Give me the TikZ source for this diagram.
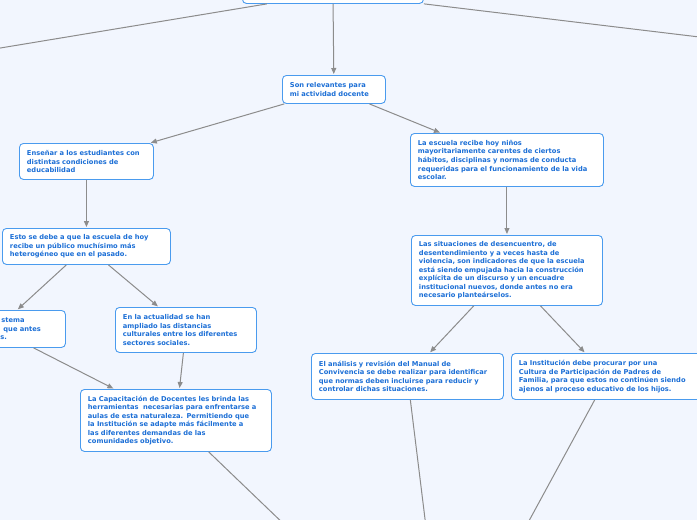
\documentclass[tikz,border=0pt]{standalone}
\usepackage{fontspec}
\setmainfont{DejaVu Sans}
\usetikzlibrary{arrows.meta,calc}
\definecolor{bgc}{HTML}{F2F6FE}
\definecolor{bdr}{HTML}{4A9BEE}
\definecolor{txt}{HTML}{1C6FD6}
\definecolor{lnc}{HTML}{8C8C8C}
\begin{document}
\begin{tikzpicture}[x=1pt,y=-1pt,
  mbox/.style={draw=bdr, fill=white, rounded corners=4pt, line width=0.9pt, text=txt,
    font=\bfseries\fontsize{6.7}{8.55}\selectfont, align=left, inner xsep=7.5pt,
    inner ysep=0pt, anchor=north west},
  conn/.style={draw=lnc, line width=1pt, shorten >=1pt, -{Triangle[length=6pt,width=5pt]}},
  plainln/.style={draw=lnc, line width=1pt}]
\useasboundingbox (0,0) rectangle (697,520);
\fill[bgc] (0,0) rectangle (697,520);
\clip (0,0) rectangle (697,520);

\node[mbox, minimum width=181pt, minimum height=21pt, text width=166pt] (top) at (242,-18) {};
\node[mbox, minimum width=103pt, minimum height=28pt, text width=88pt] (son) at (282,75)
  {Son relevantes para\\mi actividad docente};
\node[mbox, minimum width=134pt, minimum height=36pt, text width=119pt] (ens) at (19,143)
  {Enseñar a los estudiantes con\\distintas condiciones de\\educabilidad};
\node[mbox, minimum width=193pt, minimum height=53pt, text width=178pt] (esc) at (410,133)
  {La escuela recibe hoy niños\\mayoritariamente carentes de ciertos\\hábitos, disciplinas y normas de conducta\\requeridas para el funcionamiento de la vida\\escolar.};
\node[mbox, minimum width=168pt, minimum height=36pt, text width=153pt] (esto) at (2,228)
  {Esto se debe a que la escuela de hoy\\recibe un público muchísimo más\\heterogéneo que en el pasado.};
\node[mbox, minimum width=191pt, minimum height=70pt, text width=176pt] (sit) at (411,235)
  {Las situaciones de desencuentro, de\\desentendimiento y a veces hasta de\\violencia, son indicadores de que la escuela\\está siendo empujada hacia la construcción\\explícita de un discurso y un encuadre\\institucional nuevos, donde antes no era\\necesario planteárselos.};
\node[mbox, minimum width=138pt, minimum height=37pt, text width=123pt] (part) at (-73,310)
  {\hspace*{66.5pt}stema\\\hspace*{68.5pt}que antes\\\hspace*{65.5pt}s.};
\node[mbox, minimum width=141pt, minimum height=45pt, text width=126pt] (enla) at (115,307)
  {En la actualidad se han\\ampliado las distancias\\culturales entre los diferentes\\sectores sociales.};
\node[mbox, minimum width=191pt, minimum height=62pt, text width=176pt] (cap) at (80,389)
  {La Capacitación de Docentes les brinda las\\herramientas\ \ necesarias para enfrentarse a\\aulas de esta naturaleza. Permitiendo que\\la Institución se adapte más fácilmente a\\las diferentes demandas de las\\comunidades objetivo.};
\node[mbox, minimum width=192pt, minimum height=46pt, text width=177pt] (ana) at (311,353)
  {El análisis y revisión del Manual de\\Convivencia se debe realizar para identificar\\que normas deben incluirse para reducir y\\controlar dichas situaciones.};
\node[mbox, minimum width=192pt, minimum height=46pt, text width=177pt] (inst) at (511,353)
  {La Institución debe procurar por una\\Cultura de Participación de Padres de\\Familia, para que estos no continúen siendo\\ajenos al proceso educativo de los hijos.};

\coordinate (tl) at (-100,64.6);
\coordinate (tr) at (800,49.1);
\coordinate (cb) at (363,600);
\coordinate (ab) at (435,600);
\coordinate (ib) at (486,600);

\draw[plainln] (top) -- (tl);
\draw[plainln] (top) -- (tr);
\draw[conn] (top) -- (son);
\draw[conn] (son) -- (ens);
\draw[conn] (son) -- (esc);
\draw[conn] (ens) -- (esto);
\draw[conn] (esc) -- (sit);
\draw[conn] (esto) -- (part);
\draw[conn] (esto) -- (enla);
\draw[conn] (part) -- (cap);
\draw[conn] (enla) -- (cap);
\draw[plainln] (cap) -- (cb);
\draw[conn] (sit) -- (ana);
\draw[conn] (sit) -- (inst);
\draw[plainln] (ana) -- (ab);
\draw[plainln] (inst) -- (ib);
\end{tikzpicture}
\end{document}
